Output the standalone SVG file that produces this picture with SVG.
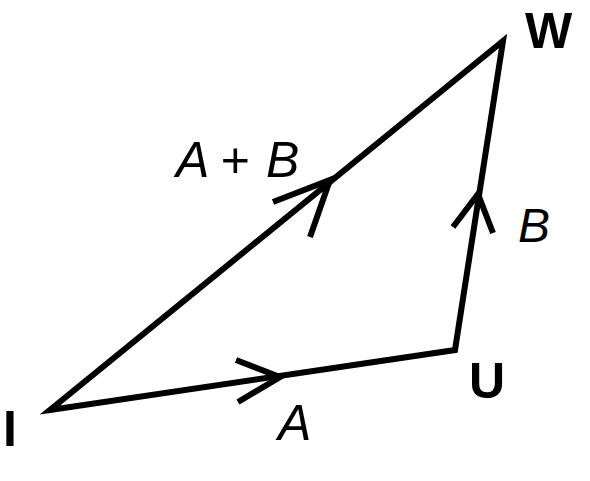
<svg xmlns="http://www.w3.org/2000/svg" width="590" height="481" viewBox="0 0 590 481">
<style>
.edge{fill:none;stroke:#000;stroke-width:6;stroke-linejoin:miter;stroke-linecap:butt}
.head{fill:none;stroke:#000;stroke-width:6;stroke-linejoin:miter;stroke-linecap:butt}
.pt{font-family:"Liberation Sans",Arial,sans-serif;font-weight:bold;font-size:50px;fill:#000}
.vec{font-family:"Liberation Sans",Arial,sans-serif;font-style:italic;font-size:50px;fill:#000}
</style>
<rect width="590" height="481" fill="#fff"/>
<g id="connectors">
<polygon class="edge" points="50,410 455,350 503,41"/>
<polyline class="head" points="236,360 280,377 238,402"/>
<polyline class="head" points="273,202 330,180 310,237"/>
<polyline class="head" points="453,227 478,194 493,233"/>
<text class="vec" x="278" y="440">A</text>
<text class="vec" x="176" y="177">A</text>
<text class="vec" x="220" y="177">+</text>
<text class="vec" x="266" y="177">B</text>
<text class="vec" x="518" y="242" style="font-size:48px">B</text>
</g>
<g id="node-I"><text class="pt" x="3" y="446">I</text></g>
<g id="node-U"><text class="pt" x="469" y="398">U</text></g>
<g id="node-W"><text class="pt" x="525" y="48">W</text></g>
</svg>
